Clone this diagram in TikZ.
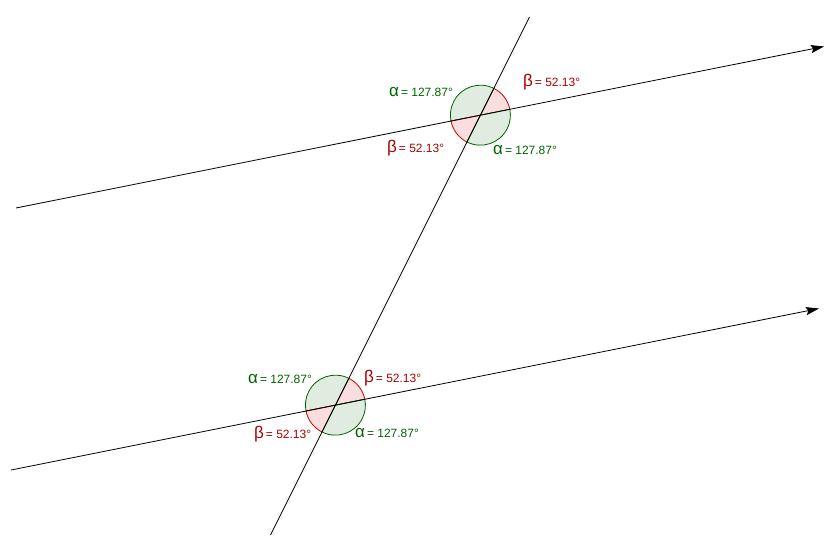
\documentclass[tikz,border=0pt]{standalone}
\usepackage{fontspec}
\setmainfont{Liberation Sans}
\usetikzlibrary{arrows.meta,intersections}
\definecolor{anglegreen}{RGB}{0,100,0}
\definecolor{anglered}{RGB}{204,0,0}
\definecolor{labelred}{RGB}{170,0,0}
\newcommand{\anglabel}[2]{{\fontsize{17}{17}\selectfont #1}\kern2pt{\fontsize{12}{12}\selectfont= #2°}}

\begin{document}
\begin{tikzpicture}[x=1pt, y=1pt,
    line/.style={line width=0.8pt},
    parallel/.style={line, -{Stealth[length=13pt, width=8pt, inset=2pt]}},
    alphasec/.style={fill=anglegreen!12, draw=anglegreen, line width=0.8pt},
    betasec/.style={fill=anglered!13, draw=anglered, line width=0.8pt},
    alphalbl/.style={anchor=west, inner sep=0pt, text=anglegreen},
    betalbl/.style={anchor=west, inner sep=0pt, text=labelred}
]
    \useasboundingbox (0,0) rectangle (837,-554);

    % End points
    \coordinate (top1) at (16,-208);
    \coordinate (top2) at (824,-46.5);
    \coordinate (bot1) at (11,-470);
    \coordinate (bot2) at (819,-308.5);
    \coordinate (cross1) at (529.5,-17);
    \coordinate (cross2) at (270.5,-535);

    % Intersections
    \path[name path=topline] (top1) -- (top2);
    \path[name path=botline] (bot1) -- (bot2);
    \path[name path=crossline] (cross1) -- (cross2);
    \path[name intersections={of=topline and crossline, by=P}];
    \path[name intersections={of=botline and crossline, by=Q}];

    % Angle sectors
    \foreach \c in {P,Q} {
        \filldraw[betasec] (\c) -- ++(11.3:30) arc[start angle=11.3, end angle=63.43, radius=30] -- cycle;
        \filldraw[alphasec] (\c) -- ++(63.43:30) arc[start angle=63.43, end angle=191.3, radius=30] -- cycle;
        \filldraw[betasec] (\c) -- ++(191.3:30) arc[start angle=191.3, end angle=243.43, radius=30] -- cycle;
        \filldraw[alphasec] (\c) -- ++(243.43:30) arc[start angle=243.43, end angle=371.3, radius=30] -- cycle;
    }

    % Lines
    \draw[parallel] (top1) -- (top2);
    \draw[parallel] (bot1) -- (bot2);
    \draw[line] (cross1) -- (cross2);

    % Labels
    \node[alphalbl] (alphaP1) at (389,-92) {\anglabel{α}{127.87}};
    \node[betalbl] (betaP1) at (523,-82) {\anglabel{β}{52.13}};
    \node[betalbl] (betaP2) at (387,-148) {\anglabel{β}{52.13}};
    \node[alphalbl] (alphaP2) at (493,-150) {\anglabel{α}{127.87}};
    \node[alphalbl] (alphaQ1) at (248,-379) {\anglabel{α}{127.87}};
    \node[betalbl] (betaQ1) at (364,-378) {\anglabel{β}{52.13}};
    \node[betalbl] (betaQ2) at (254,-434) {\anglabel{β}{52.13}};
    \node[alphalbl] (alphaQ2) at (355,-433) {\anglabel{α}{127.87}};

\end{tikzpicture}
\end{document}
